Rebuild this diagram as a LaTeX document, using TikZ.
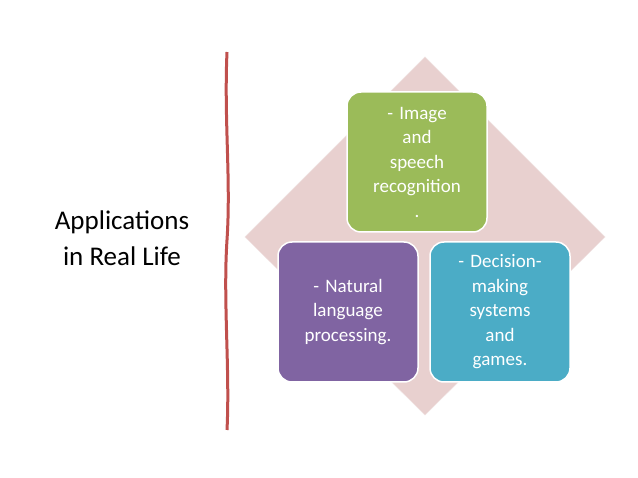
\documentclass[tikz,border=0pt]{standalone}
\usepackage{fontspec}
\setmainfont{Carlito}
\definecolor{dia}{RGB}{232,208,207}
\definecolor{diab}{RGB}{240,225,225}
\definecolor{redl}{RGB}{192,80,77}
\definecolor{gr}{RGB}{155,187,89}
\definecolor{pu}{RGB}{128,100,162}
\definecolor{bl}{RGB}{75,172,198}
\begin{document}
\begin{tikzpicture}[x=1pt,y=-1pt,
 card/.style={draw=white,line width=1.5pt,rounded corners=14pt,minimum width=140pt,minimum height=140pt,text=white,align=center,font=\fontsize{19}{24.5}\selectfont,text width=120pt},
]
\useasboundingbox (0,0) rectangle (638,478);
\fill[white] (0,0) rectangle (638,478);
\draw[fill=dia,draw=diab] (425,57) -- (605,237) -- (425,415) -- (245,237) -- cycle;
\draw[redl,line width=3pt] (227,52) .. controls (224,120) and (231,180) .. (227,240) .. controls (223,300) and (230,370) .. (227,430);
\node[align=center,font=\fontsize{27}{36}\selectfont] (title) at (122,238) {Applications\\in Real Life};
\node[card,fill=gr] (g) at (417,162) {- Image\\and\\speech\\recognition\\.};
\node[card,fill=pu] (p) at (348,312) {- Natural\\language\\processing.};
\node[card,fill=bl] (b) at (500,312) {- Decision-\\making\\systems\\and\\games.};
\end{tikzpicture}
\end{document}
